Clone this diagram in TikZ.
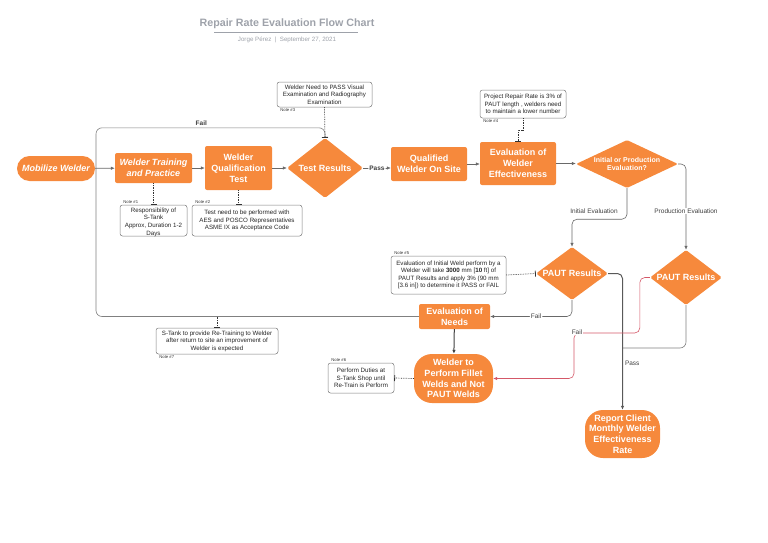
\documentclass[tikz,border=0pt]{standalone}
\usepackage{fontspec}
\setmainfont{Liberation Sans}
\usetikzlibrary{shapes.geometric,arrows.meta}

\definecolor{stepOrange}{RGB}{246,137,60}
\definecolor{noteGray}{RGB}{125,125,125}
\definecolor{lineGray}{RGB}{105,105,105}
\definecolor{failRed}{RGB}{212,88,104}
\definecolor{titleGray}{RGB}{158,162,170}

\begin{document}
\begin{tikzpicture}[x=1pt,y=-1pt,
    box/.style={fill=stepOrange, text=white, rounded corners=2pt, align=center, inner sep=1pt,
      font=\fontsize{9}{10.8}\selectfont\bfseries},
    pill/.style={box, rounded corners=18pt},
    choice/.style={box, diamond, rounded corners=1.5pt, inner sep=0pt, aspect=1.4},
    note/.style={draw=noteGray, fill=white, text=black!85, rounded corners=2.5pt, align=center,
      inner sep=1pt, line width=0.5pt, font=\fontsize{6.2}{7.5}\selectfont},
    notetag/.style={inner sep=0.5pt, text=black!80, font=\fontsize{4.2}{5}\selectfont},
    flow/.style={draw=lineGray, line width=0.6pt, rounded corners=5pt, -{Latex[length=4pt,width=3.5pt]}},
    loop/.style={draw=lineGray!85, line width=0.6pt, rounded corners=6pt},
    notelink/.style={draw=black!80, densely dotted, line width=0.7pt, -{Bar[width=6pt,line width=0.8pt]}},
    edgelabel/.style={inner sep=1pt, text=black!75, font=\fontsize{6.5}{7.5}\selectfont}]
  \useasboundingbox (0,0) rectangle (768,543);

  % Draw the title
  \node[text=titleGray, font=\fontsize{10.7}{12}\selectfont\bfseries] (title) at (287,24) {Repair Rate Evaluation Flow Chart};
  \draw[titleGray, line width=0.8pt] (214,32.5) -- (358,32.5);
  \node[text=titleGray, font=\fontsize{6.2}{7}\selectfont] (subtitle) at (287,39.5) {Jorge Pérez~~|~~September 27, 2021};

  % Draw the steps
  \node[box, rounded corners=12.5pt, minimum width=78pt, minimum height=25pt,
    font=\fontsize{9}{10.8}\selectfont\bfseries\itshape] (mobilize) at (56,168.5) {Mobilize Welder};
  \node[box, minimum width=77pt, minimum height=30pt,
    font=\fontsize{9}{10.8}\selectfont\bfseries\itshape] (training) at (153.5,168) {Welder Training\\and Practice};
  \node[box, minimum width=67pt, minimum height=44pt] (qualtest) at (238.5,168) {Welder\\Qualification\\Test};
  \node[choice, minimum width=76pt, minimum height=60pt] (testres) at (325,168) {Test Results};
  \node[box, minimum width=76pt, minimum height=34pt] (qualified) at (429,164) {Qualified\\Welder On Site};
  \node[box, minimum width=76pt, minimum height=43pt] (evaleff) at (518,163.5) {Evaluation of\\Welder\\Effectiveness};
  \node[choice, aspect=2.1, minimum width=102pt, minimum height=48pt,
    font=\fontsize{7}{8.5}\selectfont\bfseries] (initprod) at (627,164) {Initial or Production\\Evaluation?};
  \node[choice, minimum width=72pt, minimum height=53pt] (pautA) at (572,273.5) {PAUT Results};
  \node[choice, minimum width=72pt, minimum height=55pt] (pautB) at (686,277.5) {PAUT Results};
  \node[box, minimum width=71pt, minimum height=25pt] (evalneeds) at (454.5,316.5) {Evaluation of\\Needs};
  \node[pill, minimum width=79pt, minimum height=49pt] (fillet) at (453.5,378.5) {Welder to\\Perform Fillet\\Welds and Not\\PAUT Welds};
  \node[pill, minimum width=75pt, minimum height=48pt] (report) at (622.5,434) {Report Client\\Monthly Welder\\Effectiveness\\Rate};

  % Draw the notes
  \node[note, minimum width=67pt, minimum height=31pt] (note1) at (153.5,220.5) {};
  \node[align=center, inner sep=0pt, text=black!85, font=\fontsize{6.2}{7.6}\selectfont] (note1text) at (153.5,222) {Responsibility of\\S-Tank\\Approx, Duration 1-2\\Days};
  \node[note, minimum width=110pt, minimum height=31pt] (note2) at (247,220.5) {Test need to be performed with\\AES and POSCO Representatives\\ASME IX as Acceptance Code};
  \node[note, minimum width=95pt, minimum height=25pt] (note3) at (324.5,94.5) {Welder Need to PASS Visual\\Examination and Radiography\\Examination};
  \node[note, minimum width=86pt, minimum height=28pt] (note4) at (523,104) {Project Repair Rate is 3\% of\\PAUT length , welders need\\to maintain a lower number};
  \node[note, minimum width=115pt, minimum height=38pt] (note5) at (448.5,275) {Evaluation of Initial Weld perform by a\\Welder will take \textbf{3000} mm [\textbf{10} ft] of\\PAUT Results and apply 3\% (90 mm\\{[3.6 in])} to determine it PASS or FAIL};
  \node[note, minimum width=66pt, minimum height=30pt] (note6) at (361,378) {Perform Duties at\\S-Tank Shop until\\Re-Train is Perform};
  \node[note, minimum width=122pt, minimum height=26pt] (note7) at (217,341) {S-Tank to provide Re-Training to Welder\\after return to site an improvement of\\Welder is expected};
  \node[notetag, anchor=south west] (tag1) at ([xshift=3pt,yshift=0.5pt]note1.north west) {Note \#1};
  \node[notetag, anchor=south west] (tag2) at ([xshift=3pt,yshift=0.5pt]note2.north west) {Note \#2};
  \node[notetag, anchor=north west] (tag3) at ([xshift=3pt,yshift=-0.5pt]note3.south west) {Note \#3};
  \node[notetag, anchor=north west] (tag4) at ([xshift=3pt,yshift=-0.5pt]note4.south west) {Note \#4};
  \node[notetag, anchor=south west] (tag5) at ([xshift=3pt,yshift=0.5pt]note5.north west) {Note \#5};
  \node[notetag, anchor=south west] (tag6) at ([xshift=3pt,yshift=0.5pt]note6.north west) {Note \#6};
  \node[notetag, anchor=north west] (tag7) at ([xshift=3pt,yshift=-0.5pt]note7.south west) {Note \#7};

  % Draw the loops back to training
  \coordinate (join) at (96,168.5);
  \coordinate (merge) at (622.5,348);
  \coordinate (failturn) at (574,333);
  \draw[loop] (testres.north) -- ++(0,-10) -| node[pos=0.27, above=1pt, edgelabel, font=\fontsize{6.5}{7.5}\selectfont\bfseries] (failA) {Fail} (join);
  \draw[loop] (evalneeds.west) -| (join);

  % Draw the connectors
  \draw[flow] (mobilize) -- (training);
  \draw[flow] (training) -- (qualtest);
  \draw[flow] (qualtest) -- (testres);
  \draw[flow] (testres.east) -- node[edgelabel, fill=white, font=\fontsize{6.5}{7.5}\selectfont\bfseries] (passA) {Pass} (testres.east -| qualified.west);
  \draw[flow] (qualified.east) -- (qualified.east -| evaleff.west);
  \draw[flow] (evaleff.east) -- (evaleff.east -| initprod.west);
  \draw[flow] (initprod.south) -- ++(0,31) -| (pautA.north);
  \draw[flow] (initprod.east) -| (pautB.north);
  \draw[flow] (pautA.south) |- node[pos=0.72, edgelabel, fill=white] (failB) {Fail} (evalneeds.east);
  \draw[loop] (pautB.south) |- (merge);
  \draw[flow, draw=black!65, line width=1pt] (pautA.east) -| node[pos=0.83, right=1pt, edgelabel] (passB) {Pass} (report.north);
  \draw[flow, draw=failRed, line width=0.6pt] (pautB.west) -- ++(-10,0) |- (failturn) |- (fillet.east);
  \draw[flow, draw=black!75, line width=1pt] (evalneeds) -- (fillet);
  \node[edgelabel, fill=white] (failC) at (577,332) {Fail};
  \node[edgelabel] (initlbl) at (594,211) {Initial Evaluation};
  \node[edgelabel, fill=white] (prodlbl) at (686,211) {Production Evaluation};

  % Draw the note links
  \draw[notelink] (training) -- (note1);
  \draw[notelink] (qualtest.south) -- (qualtest.south |- note2.north);
  \draw[notelink] (note3.south) -- (testres.north);
  \draw[notelink] (note4.south) -- ++(0,12) -| (evaleff.north);
  \draw[notelink] (note5.east) -- (pautA.west);
  \draw[notelink] (fillet.west) -- (note6.east);
  \draw[notelink] (note7.north |- evalneeds.west) -- (note7.north);
\end{tikzpicture}
\end{document}
